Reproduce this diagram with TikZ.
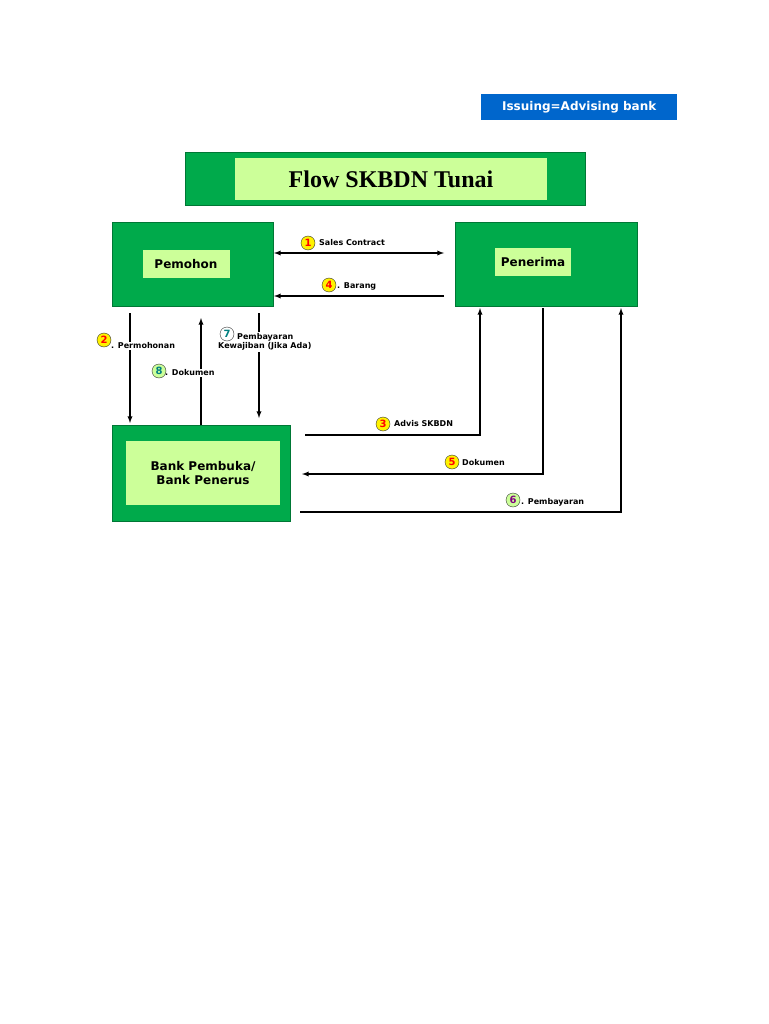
\documentclass[tikz,border=0pt]{standalone}
\usepackage{fontspec}
\setmainfont{DejaVu Sans}
\newfontfamily\titlefont{Liberation Serif}
\usetikzlibrary{arrows}
\definecolor{boxgreen}{RGB}{0,170,75}
\definecolor{lightgreen}{RGB}{204,255,153}
\definecolor{issueblue}{RGB}{0,102,204}
\begin{document}
\begin{tikzpicture}[x=1pt,y=-1pt]
		\begin{scope}
		
		\tikzstyle{outerbox}=[rectangle,
		draw=boxgreen!70!black,
		fill=boxgreen,
		inner sep=0pt,
		anchor=north west
		]
		\tikzstyle{innerbox}=[rectangle,
		fill=lightgreen,
		inner sep=0pt,
		font=\bfseries\fontsize{12}{14}\selectfont,
		align=center
		]
		\tikzstyle{num}=[circle,
		draw=black!80,
		fill=yellow,
		text=red,
		inner sep=0pt,
		minimum size=14pt,
		font=\bfseries\fontsize{10}{10}\selectfont
		]
		\tikzstyle{lbl}=[font=\bfseries\fontsize{8}{9.5}\selectfont,inner sep=1pt,align=left]
		\tikzstyle{flow}=[-latex,line width=1.3pt]
		
		\useasboundingbox[fill=white] (0,0) rectangle (768,1024);
		
		% header
		\node[rectangle,fill=issueblue,text=white,anchor=north west,minimum width=196pt,minimum height=26pt,inner sep=0pt,font=\bfseries\fontsize{12}{14}\selectfont] (issue) at (481,94) {Issuing=Advising bank};
		\node[outerbox,minimum width=400pt,minimum height=53pt] (title) at (185,152) {};
		\node[innerbox,minimum width=312pt,minimum height=42pt,font=\titlefont\bfseries\fontsize{24}{26}\selectfont] (titletext) at (391,179) {Flow SKBDN Tunai};
		
		% parties
		\node[outerbox,minimum width=161pt,minimum height=84pt] (pemohon) at (112,222) {};
		\node[innerbox,minimum width=87pt,minimum height=28pt] (pemohontext) at (186,264) {Pemohon};
		\node[outerbox,minimum width=182pt,minimum height=84pt] (penerima) at (455,222) {};
		\node[innerbox,minimum width=76pt,minimum height=28pt] (penerimatext) at (533,262) {Penerima};
		\node[outerbox,minimum width=178pt,minimum height=96pt] (bank) at (112,425) {};
		\node[innerbox,minimum width=154pt,minimum height=64pt] (banktext) at (203,473) {Bank Pembuka/\\Bank Penerus};
		
		\coordinate (a1) at (274,253);
		\coordinate (b1) at (444,253);
		\coordinate (a4) at (444,296);
		\coordinate (b4) at (274,296);
		\coordinate (a2) at (130,313);
		\coordinate (b2) at (130,423);
		\coordinate (a8) at (201,425);
		\coordinate (b8) at (201,318);
		\coordinate (a7) at (259,313);
		\coordinate (b7) at (259,418);
		\coordinate (a3) at (305,435);
		\coordinate (c3) at (480,435);
		\coordinate (b3) at (480,308);
		\coordinate (a5) at (543,308);
		\coordinate (c5) at (543,474);
		\coordinate (b5) at (302,474);
		\coordinate (a6) at (300,512);
		\coordinate (c6) at (621,512);
		\coordinate (b6) at (621,308);
		
		\draw[latex-latex,line width=1.3pt] (a1) -- (b1);
		\draw[flow] (a4) -- (b4);
		\draw[flow] (a2) -- (b2);
		\draw[flow] (a8) -- (b8);
		\draw[flow] (a7) -- (b7);
		\draw[flow] (a3) -- (c3) -- (b3);
		\draw[flow] (a5) -- (c5) -- (b5);
		\draw[flow] (a6) -- (c6) -- (b6);
		
		% labels
		\node[num] (n1) at (308,243) {1};
		\node[lbl,anchor=west] (t1) at (318,243) {Sales Contract};
		\node[num] (n4) at (329,285) {4};
		\node[lbl,anchor=west] (t4) at (336,286) {. Barang};
		\node[lbl,anchor=west,fill=white] (t2) at (110,346) {. Permohonan};
		\node[num] (n2) at (104,340) {2};
		\node[lbl,anchor=west,fill=white] (t8) at (164,373) {. Dokumen};
		\node[num,fill=lightgreen,text=teal] (n8) at (159,371) {8};
		\node[lbl,anchor=north west,fill=white] (t7) at (217,332) {\hspace{19pt}Pembayaran\\Kewajiban (Jika Ada)};
		\node[num,fill=white,text=teal] (n7) at (227,334) {7};
		\node[num] (n3) at (383,424) {3};
		\node[lbl,anchor=west] (t3) at (393,424) {Advis SKBDN};
		\node[num] (n5) at (452,462) {5};
		\node[lbl,anchor=west] (t5) at (461,463) {Dokumen};
		\node[num,fill=lightgreen,text=violet] (n6) at (513,500) {6};
		\node[lbl,anchor=west] (t6) at (520,502) {. Pembayaran};
		
		\end{scope}
\end{tikzpicture}
\end{document}
